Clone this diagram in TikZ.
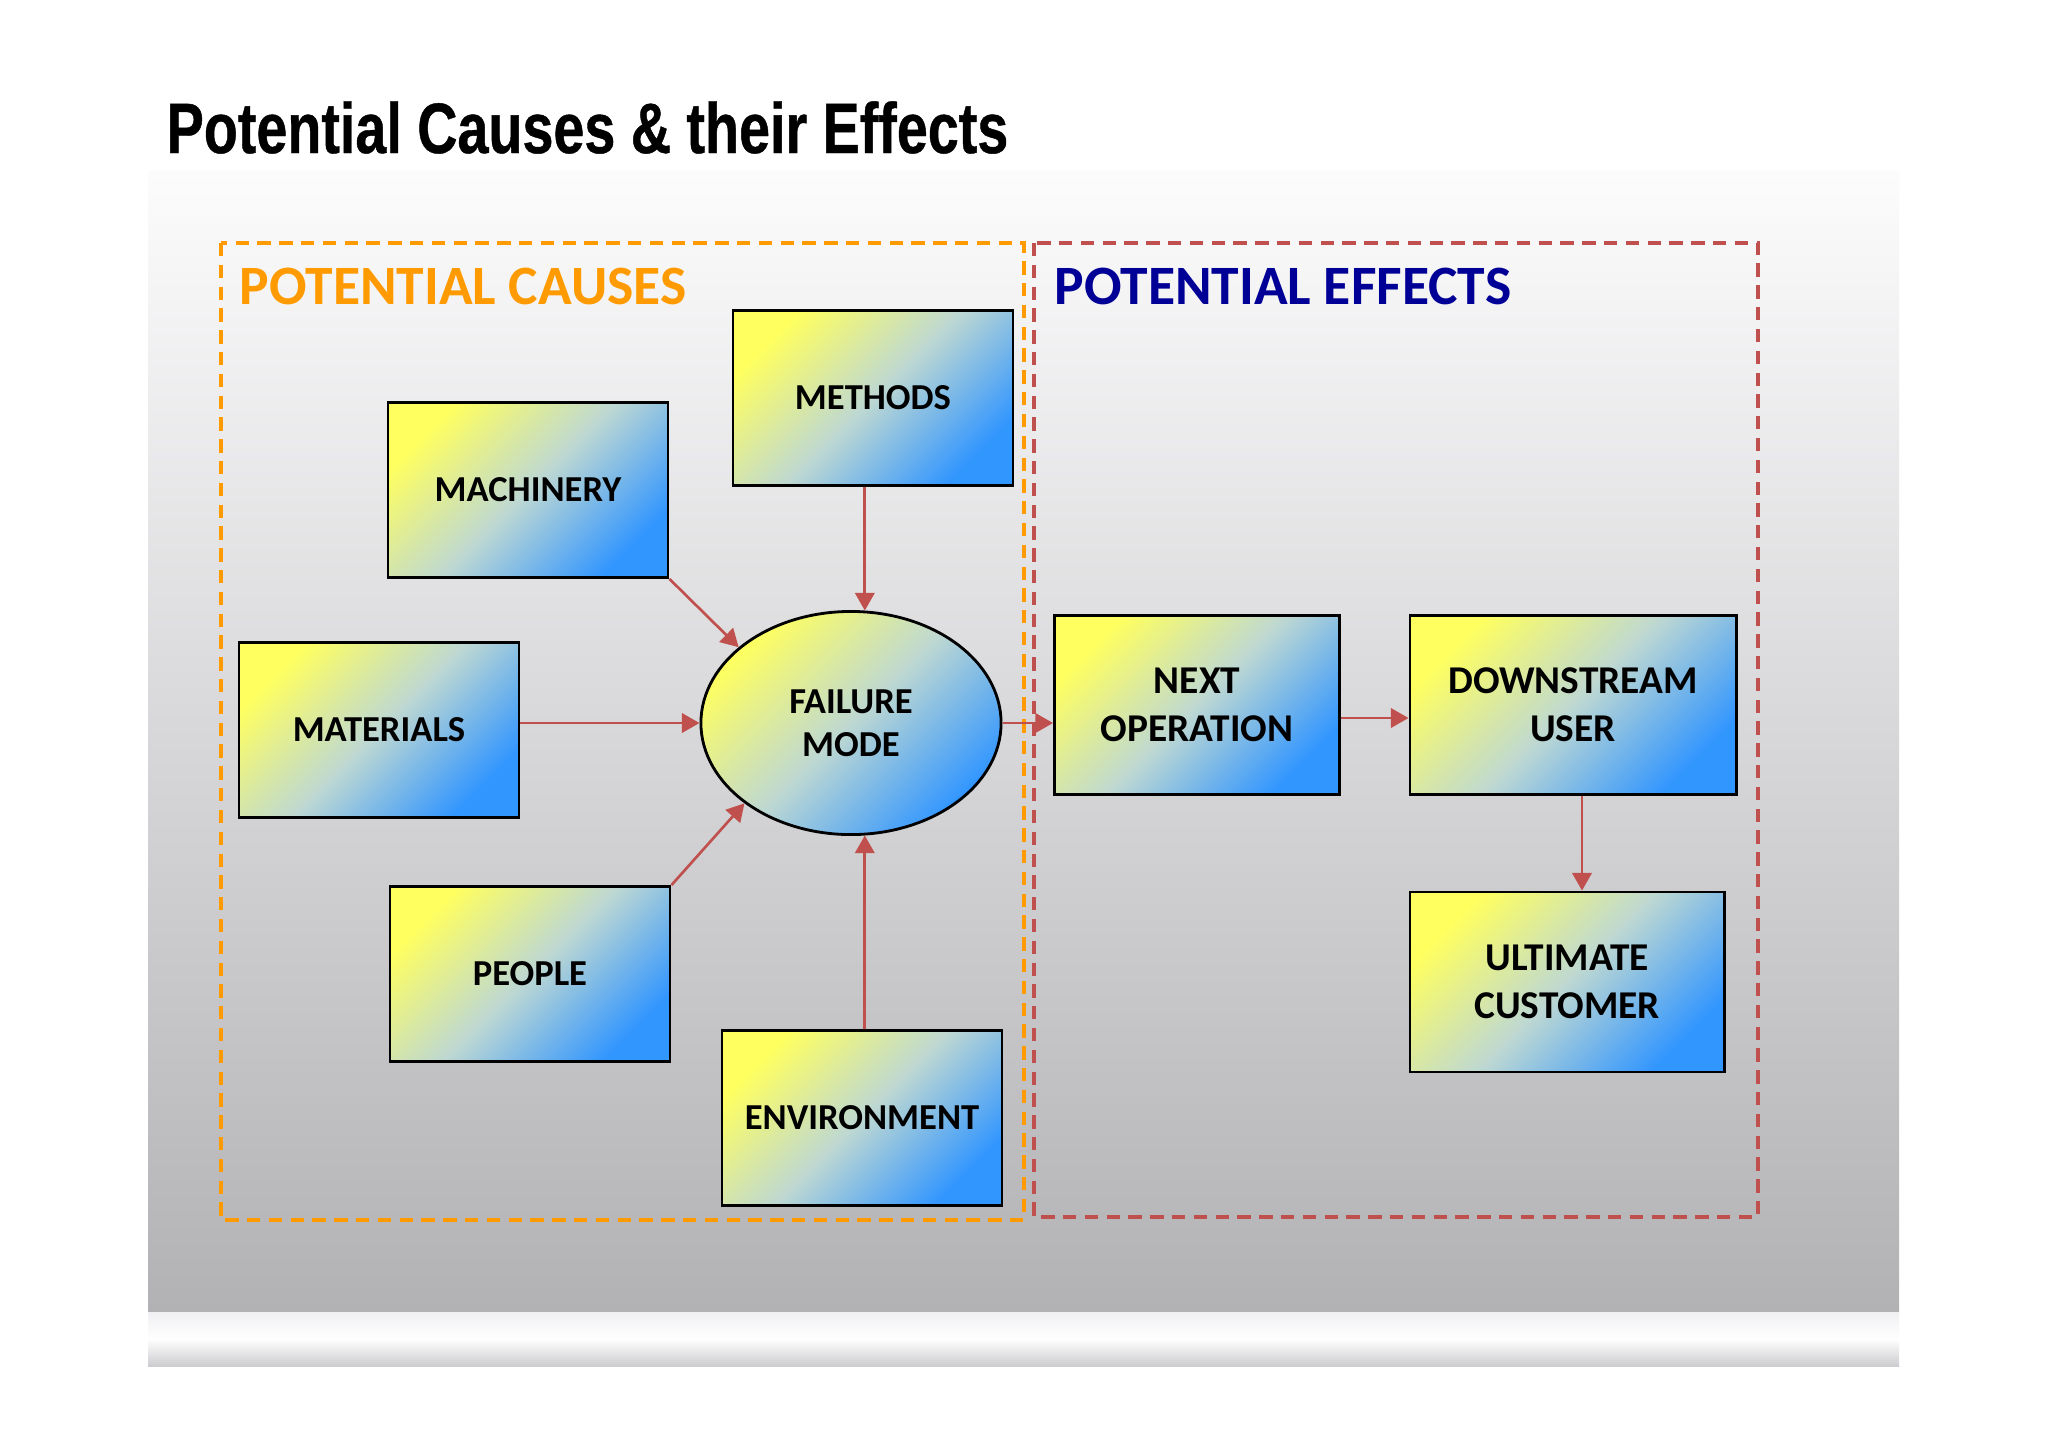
\documentclass[tikz,border=0pt]{standalone}
\usepackage{fontspec}
\setmainfont{Carlito}
\newfontfamily\titlefont[FakeStretch=0.78,FakeBold=0.6]{Liberation Sans}
\usetikzlibrary{arrows.meta,calc,shapes.geometric}
\definecolor{panelTop}{RGB}{252,252,253}
\definecolor{panelBot}{RGB}{178,177,180}
\definecolor{bandA}{RGB}{240,239,242}
\definecolor{bandC}{RGB}{204,203,207}
\definecolor{gy}{RGB}{255,255,95}
\definecolor{gm}{RGB}{190,216,210}
\definecolor{gb}{RGB}{50,150,255}
\definecolor{causeorange}{RGB}{255,155,0}
\definecolor{effblue}{RGB}{0,0,150}
\definecolor{arrred}{RGB}{192,80,77}
\tikzset{
  gbox/.style={draw=black, line width=0.8pt, top color=gy, bottom color=gb, middle color=gm, shading angle=45,
    inner sep=0pt, align=center, font=\bfseries\fontsize{10.4}{12.3}\selectfont},
  causebox/.style={gbox, rectangle, minimum width=2.8cm, minimum height=1.75cm},
  effbox/.style={gbox, rectangle, font=\bfseries\fontsize{11.2}{13.7}\selectfont},
  arr/.style={draw=arrred, line width=0.75pt, -{Triangle[length=5pt,width=5.5pt]}},
  heading/.style={anchor=base west, inner sep=0pt, font=\bfseries\fontsize{15.8}{19}\selectfont}
}
\begin{document}
\begin{tikzpicture}[x=0.01cm,y=-0.01cm]
\useasboundingbox (0,0) rectangle (2048,1447);
\fill[white] (0,0) rectangle (2048,1447);
% background panel
\shade[top color=panelTop, bottom color=panelBot] (148,170) rectangle (1899,1312);
\shade[top color=bandA, bottom color=bandC, middle color=white] (148,1312) rectangle (1899,1366);
% title
\node[anchor=base west, inner sep=0pt, font=\titlefont\bfseries\fontsize{20.3}{24}\selectfont] (title) at (166,153) {Potential Causes \& their Effects};
% dashed regions
\draw[causeorange, line width=0.9pt, dash pattern=on 3.8pt off 2.4pt] (221,243) rectangle (1024,1220);
\draw[arrred, line width=0.9pt, dash pattern=on 3.8pt off 2.4pt] (1034,243) rectangle (1758,1217);
\node[heading, text=causeorange] (hc) at (239,304) {POTENTIAL CAUSES};
\node[heading, text=effblue] (he) at (1054,304) {POTENTIAL EFFECTS};
% nodes
\node[causebox] (methods) at (873,398) {METHODS};
\node[causebox] (mach) at (528,490) {MACHINERY};
\node[causebox] (mat) at (379,730) {MATERIALS};
\node[causebox] (people) at (530,974) {PEOPLE};
\node[causebox] (env) at (862,1118) {ENVIRONMENT};
\node[gbox, ellipse, minimum width=3.0cm, minimum height=2.23cm] (fm) at (851,723) {FAILURE\\MODE};
\node[effbox, minimum width=2.85cm, minimum height=1.79cm] (next) at (1197,705) {NEXT\\OPERATION};
\node[effbox, minimum width=3.26cm, minimum height=1.79cm] (down) at (1573,705) {DOWNSTREAM\\USER};
\node[effbox, minimum width=3.14cm, minimum height=1.80cm] (ult) at (1567,982) {ULTIMATE\\CUSTOMER};
% connectors
\draw[arr] (methods.south -| fm.83) -- (fm.83);
\draw[arr] (mach.south east) -- (fm.146);
\draw[arr] (mat.east |- fm.west) -- (fm.west);
\draw[arr] (people.north east) -- (fm.217);
\draw[arr] (env.north -| fm.-83) -- (fm.-83);
\draw[arr] (fm.east) -- (next.west |- fm.east);
\draw[arr] ($(next.east)+(0,13)$) -- ($(down.west)+(0,13)$);
\draw[arr] ($(down.south)+(9,0)$) coordinate (dd) -- (dd |- ult.north);
\end{tikzpicture}
\end{document}
